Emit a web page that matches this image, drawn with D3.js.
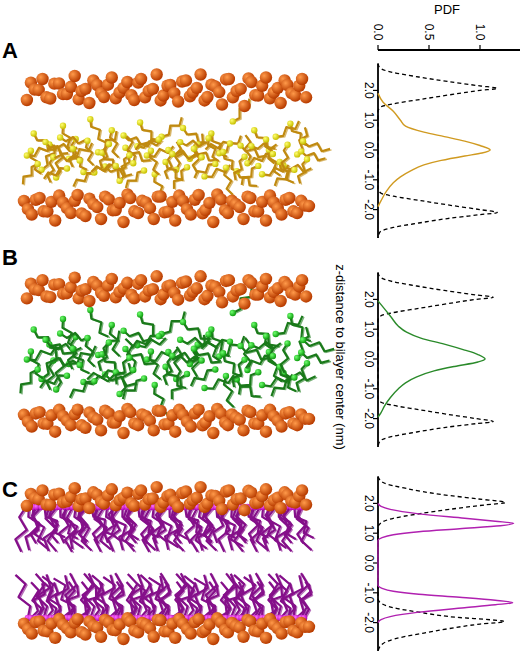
<!DOCTYPE html>
<html><head><meta charset="utf-8">
<script src="https://cdn.jsdelivr.net/npm/d3@7"></script>
<style>body{margin:0;background:#fff}svg{display:block;font-family:Arial,"Liberation Sans",sans-serif}</style>
</head><body><svg id="c" width="520" height="652"></svg>
<script>
// ---- data ----
const panelLabels = ["A","B","C"];
const pdfTicks = [0.0, 0.5, 1.0];
const zTicks = [2.0, 1.0, 0.0, -1.0, -2.0];
const zTickLabels = ["2.0","1.0","0.0","-1.0","-2.0"];
// reference (dashed) headgroup distributions
const refZ_A = [2.9,2.75,2.6,2.45,2.3,2.15,2.07,2.0,1.85,1.7,1.55,1.45,1.3,1.0,0.5,0,-0.5,-1.0,-1.3,-1.45,-1.55,-1.7,-1.85,-2.0,-2.1,-2.17,-2.3,-2.45,-2.6,-2.75,-2.95];
const refP_A = [0.0,0.02,0.15,0.4,0.68,1.0,1.17,1.0,0.7,0.42,0.15,0.03,0.0,0,0,0,0,0,0.0,0.03,0.15,0.42,0.7,1.0,1.17,1.0,0.68,0.4,0.15,0.02,0.0];
const refZ_B = refZ_A;
const refP_B = [0.0,0.02,0.14,0.38,0.65,0.96,1.13,0.96,0.67,0.4,0.14,0.03,0.0,0,0,0,0,0,0.0,0.03,0.14,0.4,0.67,0.96,1.13,0.96,0.65,0.38,0.14,0.02,0.0];
const refZ_C = [2.9,2.7,2.5,2.3,2.15,2.03,1.95,1.8,1.65,1.5,1.35,1.2,1.0,0.5,0,-0.5,-1.0,-1.2,-1.35,-1.5,-1.65,-1.8,-1.97,-2.05,-2.2,-2.35,-2.5,-2.7,-2.95];
const refP_C = [0.0,0.05,0.28,0.62,0.98,1.25,1.05,0.7,0.4,0.15,0.03,0.0,0,0,0,0,0,0.0,0.03,0.15,0.4,0.7,1.24,1.0,0.7,0.45,0.22,0.05,0.0];
// solute distributions
const solZ_A = [1.9,1.6,1.3,1.0,0.8,0.6,0.45,0.3,0.15,0.0,-0.1,-0.2,-0.35,-0.5,-0.7,-0.9,-1.1,-1.4,-1.7,-1.9];
const solP_A = [0.0,0.05,0.15,0.22,0.27,0.45,0.65,0.85,1.0,1.1,1.02,0.85,0.62,0.45,0.32,0.22,0.15,0.08,0.03,0.0];
const solZ_B = [1.95,1.7,1.4,1.1,0.9,0.7,0.5,0.3,0.15,0.0,-0.1,-0.25,-0.4,-0.6,-0.8,-1.0,-1.3,-1.6,-1.8,-1.95];
const solP_B = [0.0,0.06,0.13,0.2,0.28,0.42,0.65,0.85,0.98,1.05,0.98,0.75,0.55,0.38,0.27,0.2,0.12,0.06,0.03,0.0];
const solZ_C = [2.0,1.9,1.8,1.65,1.5,1.4,1.33,1.25,1.15,1.05,0.95,0.85,0.75,0,-0.75,-0.85,-0.95,-1.05,-1.15,-1.25,-1.33,-1.4,-1.5,-1.65,-1.8,-1.9,-2.0];
const solP_C = [0.0,0.03,0.12,0.4,0.85,1.15,1.33,1.2,0.8,0.4,0.15,0.04,0.0,0,0.0,0.04,0.15,0.4,0.8,1.15,1.32,1.15,0.85,0.4,0.12,0.03,0.0];
// headgroup sphere positions [x, dy]
const headTop = [[5,8],[13,1],[21,-6],[29,7],[38,-3],[46,4],[54,-8],[61,2],[69,10],[77,-2],[84,6],[92,-7],[100,3],[108,-4],[115,8],[122,-6],[130,2],[138,-9],[145,5],[152,-2],[160,9],[168,-5],[175,3],[183,-9],[190,6],[198,-1],[205,11],[212,-6],[220,2],[228,12],[235,-4],[242,5],[250,-7],[258,3],[265,10],[272,-2],[280,5],[287,-6]];
const headBot = [[2,-4],[10,5],[18,-6],[26,3],[34,9],[42,-3],[50,4],[57,-8],[65,6],[73,-2],[81,8],[89,-5],[96,2],[104,10],[111,-6],[119,4],[127,-3],[135,8],[142,-7],[150,3],[157,9],[165,-4],[173,5],[181,-8],[188,2],[196,10],[204,-5],[211,4],[219,-2],[227,8],[234,-6],[242,3],[250,9],[258,-3],[266,5],[274,-6],[282,4],[290,-1]];
// solute chain anchors [x, y, angle(deg)]
const chains = [[5,5,-20],[12,-15,40],[20,18,-60],[28,-5,10],[35,25,-80],[42,-22,70],[48,8,-30],[55,-10,100],[63,20,-10],[70,-28,60],[78,2,-45],[85,15,20],[92,-18,80],[100,28,-70],[106,-2,30],[114,12,-100],[121,-25,50],[128,5,-15],[136,22,70],[143,-12,-40],[150,0,15],[158,18,-85],[165,-20,35],[172,8,-60],[180,-5,95],[187,24,-20],[194,-15,60],[202,3,-35],[209,16,80],[216,-26,-50],[224,-4,25],[231,12,-90],[238,-18,45],[246,22,-15],[253,0,70],[260,-12,-30],[268,14,10],[275,-24,55],[282,4,-70],[288,-8,20]];
// leaflet chain anchors for panel C [x, tilt]
const leafTop = [[4,10],[12,-15],[20,20],[28,-5],[36,15],[44,-20],[52,5],[60,-10],[68,25],[76,-15],[84,8],[92,-25],[100,12],[108,-5],[116,20],[124,-12],[132,6],[140,-22],[148,15],[156,-8],[164,22],[172,-18],[180,4],[188,-10],[196,18],[204,-25],[212,10],[220,-4],[228,20],[236,-15],[244,8],[252,-20],[260,14],[268,-6],[276,18],[284,-12]];
const leafBot = [[6,-12],[14,18],[22,-6],[30,22],[38,-18],[46,8],[54,-24],[62,12],[70,-4],[78,20],[86,-14],[94,6],[102,-20],[110,15],[118,-8],[126,24],[134,-12],[142,4],[150,-22],[158,10],[166,-6],[174,20],[182,-16],[190,8],[198,-24],[206,14],[214,-2],[222,18],[230,-12],[238,6],[246,-20],[254,12],[262,-8],[270,22],[278,-14],[286,4]];

const svg = d3.select("#c");
const defs = svg.append("defs");
function grad(id, c0, c1){
  const g = defs.append("radialGradient").attr("id",id).attr("cx","35%").attr("cy","35%").attr("r","65%");
  g.append("stop").attr("offset","0%").attr("stop-color",c0);
  g.append("stop").attr("offset","100%").attr("stop-color",c1);
}
grad("gOr","#ff9a4a","#b83c00");
grad("gY","#ffff70","#c8c000");
grad("gG","#70ff70","#10a010");
grad("gM","#ff70ff","#b000b0");

const panels = [
  {label:"A", ly:58, top:88, bot:207, mid:150, chain:"#c08a10", head:"url(#gY)", cz:150, refZ:refZ_A, refP:refP_A, solZ:solZ_A, solP:solP_A, col:"#d09a20", spread:1.5},
  {label:"B", ly:265, top:288, bot:420, mid:352, chain:"#1a7a1a", head:"url(#gG)", cz:359, refZ:refZ_B, refP:refP_B, solZ:solZ_B, solP:solP_B, col:"#2a8a2a", spread:1.3},
  {label:"C", ly:497, top:497, bot:628, mid:562, chain:"#85108a", head:"url(#gM)", cz:563, refZ:refZ_C, refP:refP_C, solZ:solZ_C, solP:solP_C, col:"#b020b0", spread:1.1}
];
const xMol = d3.scaleLinear().domain([0,290]).range([22,305]);
const zig = [[0,0],[7,3],[14,-3],[21,3],[28,-2]];

panels.forEach((p,i)=>{
  const g = svg.append("g");
  g.append("text").attr("x",2).attr("y",p.ly).attr("font-size",22).attr("font-weight","bold").text(p.label);
  const drawChain = (x0,y0,ang,len,scale)=>{
    const a = ang*Math.PI/180, ca=Math.cos(a), sa=Math.sin(a);
    const pts = zig.map(([u,v])=>[x0+(u*ca - v*sa)*scale, y0+(u*sa + v*ca)*scale]);
    g.append("path").attr("d",d3.line()(pts)).attr("fill","none").attr("stroke",p.chain).attr("stroke-width",2.2).attr("stroke-linejoin","round");
    g.append("path").attr("d",d3.line()(pts.map(q=>[q[0]+1.5,q[1]+1]))).attr("fill","none").attr("stroke",p.chain).attr("stroke-opacity",0.6).attr("stroke-width",1.4);
    g.append("circle").attr("cx",pts[0][0]).attr("cy",pts[0][1]).attr("r",3.2).attr("fill",p.head);
  };
  if(i<2){
    const amp = i===0?1.1:1.5;
    chains.forEach(([x,y,a])=>{ drawChain(xMol(x), p.mid+y*amp, a, 28, i===0?1:1.15); });
    chains.forEach(([x,y,a])=>{ drawChain(xMol(x)+4, p.mid-y*amp*0.6+4, a+90, 28, i===0?0.9:1.05); });
  } else {
    leafTop.forEach(([x,t])=>{ drawChain(xMol(x), p.top+10, 90+t, 0, 1.6); drawChain(xMol(x)+3, p.top+10, 80-t, 0, 1.3); });
    leafBot.forEach(([x,t])=>{ drawChain(xMol(x), p.bot-10, -90+t, 0, 1.6); drawChain(xMol(x)+3, p.bot-10, -80-t, 0, 1.3); });
  }
  const spheres = [];
  headTop.forEach(([x,dy])=>{ spheres.push([xMol(x), p.top+dy*p.spread]); spheres.push([xMol(x)+4, p.top-dy*0.7*p.spread+3]); });
  headBot.forEach(([x,dy])=>{ spheres.push([xMol(x), p.bot+dy*p.spread]); spheres.push([xMol(x)+4, p.bot-dy*0.7*p.spread-2]); });
  g.selectAll("circle.h").data(spheres).enter().append("circle").attr("class","h")
    .attr("cx",d=>d[0]).attr("cy",d=>d[1]).attr("r",6.2).attr("fill","url(#gOr)");

  // PDF plot
  const z = d3.scaleLinear().domain([2.9,-2.95]).range([p.cz-2.9*29.8, p.cz+2.95*29.8]);
  const x = d3.scaleLinear().domain([0,1]).range([378,480]);
  const pg = svg.append("g");
  pg.append("line").attr("x1",378).attr("x2",378).attr("y1",z(2.9)).attr("y2",z(-2.95)).attr("stroke","#000").attr("stroke-width",1.8);
  zTicks.forEach((t,k)=>{
    pg.append("line").attr("x1",373).attr("x2",378).attr("y1",z(t)).attr("y2",z(t)).attr("stroke","#000").attr("stroke-width",1.2);
    pg.append("text").attr("transform",`translate(365,${z(t)}) rotate(90)`).attr("text-anchor","middle").attr("font-size",12).text(zTickLabels[k]);
  });
  const ln = d3.line().curve(d3.curveMonotoneY).x(d=>x(d[1])).y(d=>z(d[0]));
  pg.append("path").attr("d",ln(p.refZ.map((v,k)=>[v,p.refP[k]]))).attr("fill","none").attr("stroke","#000").attr("stroke-width",1.3).attr("stroke-dasharray","4,3");
  pg.append("path").attr("d",ln(p.solZ.map((v,k)=>[v,p.solP[k]]))).attr("fill","none").attr("stroke",p.col).attr("stroke-width",1.4);
});

// top PDF axis
const xA = d3.scaleLinear().domain([0,1]).range([378,480]);
svg.append("line").attr("x1",378).attr("x2",520).attr("y1",50).attr("y2",50).attr("stroke","#000").attr("stroke-width",1.8);
pdfTicks.forEach(t=>{
  svg.append("line").attr("x1",xA(t)).attr("x2",xA(t)).attr("y1",45).attr("y2",50).attr("stroke","#000").attr("stroke-width",1.2);
  svg.append("text").attr("transform",`translate(${xA(t)-4},32) rotate(90)`).attr("text-anchor","middle").attr("font-size",12).text(t.toFixed(1));
});
svg.append("text").attr("x",447).attr("y",14).attr("text-anchor","middle").attr("font-size",13).text("PDF");
svg.append("text").attr("transform","translate(336,357) rotate(90)").attr("text-anchor","middle").attr("font-size",13).text("z-distance to bilayer center (nm)");
</script></body></html>
